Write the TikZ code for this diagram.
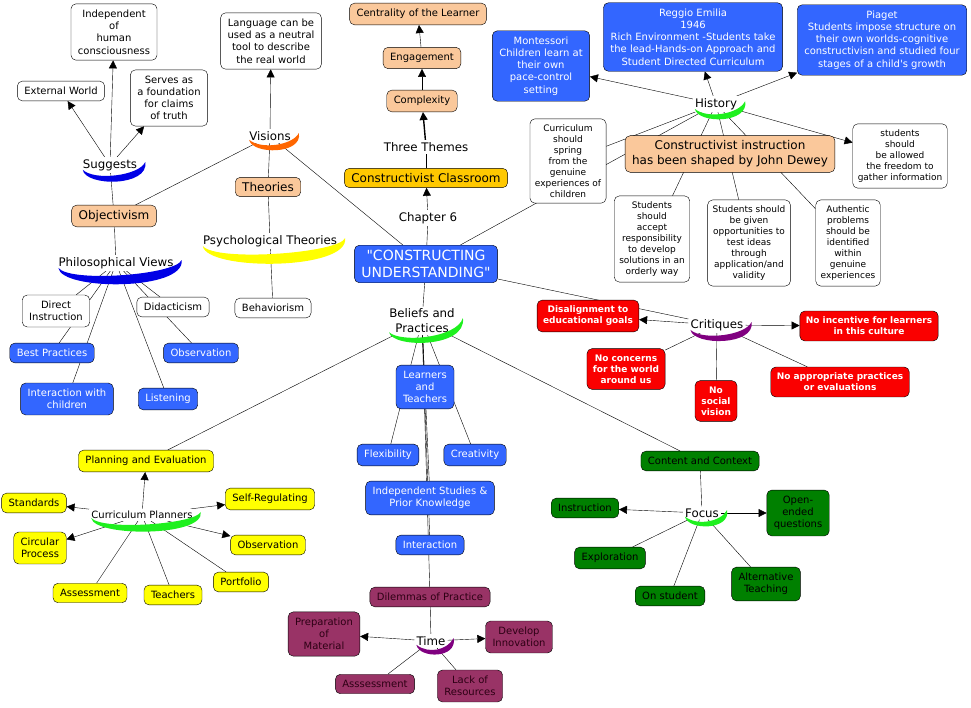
\documentclass[tikz,border=0pt]{standalone}
\usepackage{fontspec}
\setmainfont{DejaVu Sans}[Ligatures=TeXOff]
\usetikzlibrary{arrows.meta,calc,backgrounds}

\definecolor{peachc}{RGB}{250,200,155}
\definecolor{goldc}{RGB}{255,200,0}
\definecolor{bluec}{RGB}{51,102,255}
\definecolor{redc}{RGB}{250,0,0}
\definecolor{yellowc}{RGB}{255,255,0}
\definecolor{greenc}{RGB}{0,128,0}
\definecolor{plumc}{RGB}{153,51,102}
\definecolor{plumtext}{RGB}{45,0,20}
\definecolor{swblue}{RGB}{0,0,230}
\definecolor{sworange}{RGB}{255,102,0}
\definecolor{swyellow}{RGB}{255,255,0}
\definecolor{swgreen}{RGB}{30,240,30}
\definecolor{swpurple}{RGB}{128,0,128}

\tikzset{
  >={Triangle[length=8pt,width=8pt]},
  box/.style={draw, rounded corners=5pt, align=center, inner xsep=7pt, inner ysep=6pt,
    font=\fontsize{10}{12.2}\selectfont},
  plain/.style={box, fill=white},
  small/.style={plain, inner xsep=5pt, font=\fontsize{9}{10.9}\selectfont},
  peach/.style={box, fill=peachc},
  bluebox/.style={box, fill=bluec, text=white},
  redbox/.style={box, fill=redc, text=white, inner xsep=6pt, font=\fontsize{9}{11}\selectfont\bfseries},
  yellowbox/.style={box, fill=yellowc},
  greenbox/.style={box, fill=greenc},
  plumbox/.style={box, fill=plumc, text=plumtext},
  link/.style={inner sep=2pt, fill=white, align=center, font=\fontsize{11.8}{15}\selectfont},
  big/.style={font=\fontsize{12}{15}\selectfont, inner ysep=5pt}
}

% crescent under a linking phrase: #1 node, #2 colour, #3 depth
\newcommand{\swoosh}[3]{%
  \fill[#2] ($(#1.south west)+(2,-3)$)
    .. controls ($(#1.south west)+(5,#3)$) and ($(#1.south east)+(10,#3)$)
    .. ($(#1.east)+(6,-3)$)
    .. controls ($(#1.south east)+(0,0.2*#3)$) and ($(#1.south west)+(14,0.6*#3)$)
    .. cycle;}

\begin{document}
\begin{tikzpicture}[x=1pt,y=-1pt]
  \useasboundingbox (0,0) rectangle (971,707);

  % --- objectivism ---
  \node[plain] (indep) at (114,32) {Independent\\of\\human\\consciousness};
  \node[plain] (extw) at (61,91) {External World};
  \node[plain] (serves) at (169,98) {Serves as\\a foundation\\for claims\\of truth};
  \node[link] (sugg) at (110,165) {Suggests};
  \node[peach,big] (obj) at (114,216) {Objectivism};
  \node[link] (vis) at (270,136) {Visions};
  \node[plain] (lang) at (271,41) {Language can be\\used as a neutral\\tool to describe\\the real world};
  \node[peach,big] (theo) at (268,187) {Theories};
  \node[link] (psych) at (270,241) {Psychological Theories};
  \node[plain] (behav) at (273,308) {Behaviorism};

  % --- philosophical views ---
  \node[link] (phil) at (116,263) {Philosophical Views};
  \node[plain] (direct) at (56,311) {Direct\\Instruction};
  \node[plain] (didac) at (173,307) {Didacticism};
  \node[bluebox] (best) at (52,353) {Best Practices};
  \node[bluebox] (obs) at (201,353) {Observation};
  \node[bluebox] (interch) at (67,399) {Interaction with\\children};
  \node[bluebox] (listen) at (168,399) {Listening};

  % --- centre ---
  \node[bluebox, font=\fontsize{14}{17}\selectfont, inner ysep=5pt] (cu) at (426,264) {"CONSTRUCTING\\UNDERSTANDING"};
  \node[link] (ch6) at (428,218) {Chapter 6};
  \node[box, fill=goldc, big] (cclass) at (426,178) {Constructivist Classroom};
  \node[link] (three) at (426,147) {Three Themes};
  \node[peach] (cplx) at (422,101) {Complexity};
  \node[peach] (eng) at (422,58) {Engagement};
  \node[peach] (centr) at (418,14) {Centrality of the Learner};

  % --- history ---
  \node[bluebox] (mont) at (541,66) {Montessori\\Children learn at\\their own\\pace-control\\setting};
  \node[bluebox] (reggio) at (693,37) {Reggio Emilia\\1946\\Rich Environment -Students take\\the lead-Hands-on Approach and\\Student Directed Curriculum};
  \node[bluebox] (piaget) at (882,40) {Piaget\\Students impose structure on\\their own worlds-cognitive\\constructivisn and studied four\\stages of a child's growth};
  \node[link] (hist) at (716,104) {History};
  \node[small] (curr) at (568,161) {Curriculum\\should\\spring\\from the\\genuine\\experiences of\\children};
  \node[peach, big] (dewey) at (730,154) {Constructivist instruction\\has been shaped by John Dewey};
  \node[small] (free) at (900,156) {students\\should\\be allowed\\the freedom to\\gather information};
  \node[small] (accept) at (652,239) {Students\\should\\accept\\responsibility\\to develop\\solutions in an\\orderly way};
  \node[small] (given) at (749,243) {Students should\\be given\\opportunities to\\test ideas\\through\\application/and\\validity};
  \node[small] (auth) at (848,243) {Authentic\\problems\\should be\\identified\\within\\genuine\\experiences};

  % --- critiques ---
  \node[link] (crit) at (717,325) {Critiques};
  \node[redbox] (disal) at (588,316) {Disalignment to\\educational goals};
  \node[redbox] (noinc) at (869,326) {No incentive for learners\\in this culture};
  \node[redbox] (nocon) at (626,369) {No concerns\\for the world\\around us};
  \node[redbox] (nosoc) at (716,401) {No\\social\\vision};
  \node[redbox] (noapp) at (840,382) {No appropriate practices\\or evaluations};

  % --- beliefs and practices ---
  \node[link] (beliefs) at (422,321) {Beliefs and\\Practices};
  \node[bluebox] (learn) at (425,387) {Learners\\and\\Teachers};
  \node[bluebox] (flex) at (388,455) {Flexibility};
  \node[bluebox] (creat) at (475,455) {Creativity};
  \node[bluebox] (indst) at (430,498) {Independent Studies \&\\Prior Knowledge};
  \node[bluebox] (inter) at (430,545) {Interaction};
  \node[plumbox] (dilem) at (430,597) {Dilemmas of Practice};
  \node[link] (time) at (431,641) {Time};
  \node[plumbox] (prep) at (324,634) {Preparation\\of\\Material};
  \node[plumbox] (devel) at (519,637) {Develop\\Innovation};
  \node[plumbox] (asss) at (375,684) {Asssessment};
  \node[plumbox] (lack) at (470,686) {Lack of\\Resources};

  % --- planning ---
  \node[yellowbox] (plan) at (146,461) {Planning and Evaluation};
  \node[link, font=\fontsize{10}{12}\selectfont] (cplan) at (142,515) {Curriculum Planners};
  \node[yellowbox] (stand) at (34,503) {Standards};
  \node[yellowbox] (selfr) at (270,499) {Self-Regulating};
  \node[yellowbox] (circ) at (40,548) {Circular\\Process};
  \node[yellowbox] (obs2) at (268,545) {Observation};
  \node[yellowbox] (assm) at (90,593) {Assessment};
  \node[yellowbox] (teach) at (173,595) {Teachers};
  \node[yellowbox] (portf) at (241,582) {Portfolio};

  % --- focus ---
  \node[greenbox] (cont) at (700,461) {Content and Context};
  \node[link] (focus) at (702,513) {Focus};
  \node[greenbox] (instr) at (585,508) {Instruction};
  \node[greenbox] (open) at (798,513) {Open-\\ended\\questions};
  \node[greenbox] (explo) at (610,558) {Exploration};
  \node[greenbox] (onst) at (670,596) {On student};
  \node[greenbox] (alt) at (766,584) {Alternative\\Teaching};

  % --- linee ---
  \begin{scope}[on background layer, line width=0.7pt]
    \draw (sugg) -- (obj);
    \draw (obj) -- (vis);
    \draw (obj) -- (phil);
    \draw (vis) -- (theo);
    \draw (vis) -- (cu);
    \draw (theo) -- (psych);
    \draw (psych) -- (behav);
    \foreach \t in {direct,best,interch,listen,didac,obs}
      \draw (phil) -- (\t);
    \draw (cu) -- (ch6);
    \draw (cclass) -- (three);
    \draw (cu) -- (hist);
    \draw (cu) -- (crit);
    \draw (cu) -- (beliefs);
    \foreach \t in {curr,accept,given,auth}
      \draw (hist) -- (\t);
    \foreach \t in {nocon,nosoc,noapp}
      \draw (crit) -- (\t);
    \foreach \t in {learn,flex,creat,indst,inter,dilem,plan,cont}
      \draw (beliefs) -- (\t);
    \draw (dilem) -- (time);
    \foreach \t in {asss,lack}
      \draw (time) -- (\t);
    \foreach \t in {assm,teach,portf}
      \draw (cplan) -- (\t);
    \draw (cont) -- (focus);
    \foreach \t in {explo,onst,alt}
      \draw (focus) -- (\t);

    % frecce
    \foreach \t in {extw,indep,serves}
      \draw[->] (sugg) -- (\t);
    \draw[->] (vis) -- (lang);
    \draw[->] (ch6) -- (cclass);
    \draw[->, line width=1.4pt] (three) -- (cplx);
    \draw[->] (cplx) -- (eng);
    \draw[->] (eng) -- (centr);
    \foreach \t in {mont,reggio,piaget,free}
      \draw[->] (hist) -- (\t);
    \foreach \t in {disal,noinc}
      \draw[->] (crit) -- (\t);
    \foreach \t in {prep,devel}
      \draw[->] (time) -- (\t);
    \foreach \t in {plan,stand,selfr,circ,obs2}
      \draw[->] (cplan) -- (\t);
    \foreach \t in {instr,open}
      \draw[->] (focus) -- (\t);
  \end{scope}

  % --- mezzelune ---
  \swoosh{sugg}{swblue}{14}
  \swoosh{vis}{sworange}{12}
  \swoosh{psych}{swyellow}{22}
  \swoosh{phil}{swblue}{20}
  \swoosh{hist}{swgreen}{12}
  \swoosh{crit}{swpurple}{13}
  \swoosh{beliefs}{swgreen}{13}
  \swoosh{time}{swpurple}{11}
  \swoosh{cplan}{swgreen}{16}
  \swoosh{focus}{swgreen}{11}
\end{tikzpicture}
\end{document}
